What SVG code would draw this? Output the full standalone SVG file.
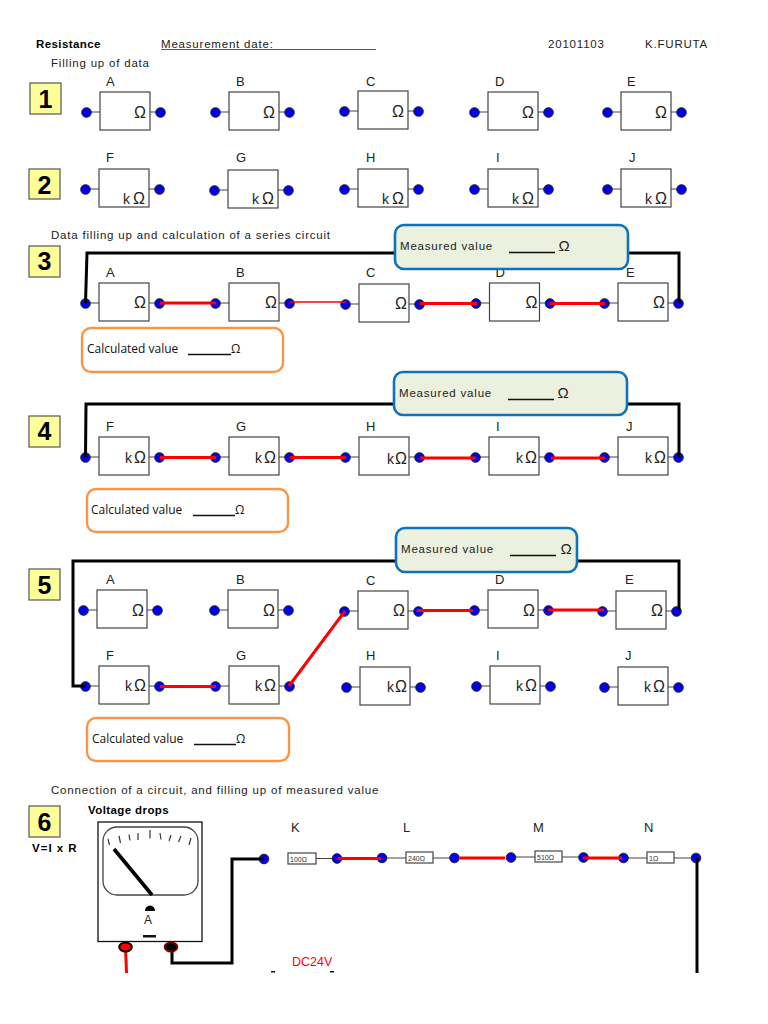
<svg xmlns="http://www.w3.org/2000/svg" xmlns:xlink="http://www.w3.org/1999/xlink" width="768" height="1024" viewBox="0 0 768 1024">
<style>
text{font-family:"Liberation Sans",Arial,sans-serif;fill:#222}
.t{font-size:11.5px;letter-spacing:.8px}
.b{font-size:11.5px;font-weight:bold;fill:#000;letter-spacing:.4px}
.l{font-size:13px}
.o{font-size:16px;text-anchor:middle}
.n{font-size:25px;font-weight:bold;text-anchor:middle;fill:#000}
.c{font-family:"Open Sans","Noto Sans",sans-serif;font-size:12px;fill:#111}
.sm{font-size:7px;fill:#333}
.badge{fill:#ffff99;stroke:#555;stroke-width:1.2}
.box{fill:#fff;stroke:#444;stroke-width:1.2}
.lead{stroke:#444;stroke-width:1.2;fill:none}
.dot{fill:#0000ee;stroke:#222;stroke-width:1}
.blk{stroke:#000;stroke-width:3;fill:none}
.red{stroke:#f00;stroke-width:3;fill:none}
.ul{stroke:#111;stroke-width:1.3}
.mv{fill:#ebf1de;stroke:#0f72bd;stroke-width:2.6}
.cv{fill:#fff;stroke:#f79646;stroke-width:2.4}
</style>
<defs>
<g id="res">
<path class="lead" d="M-9 20H0M50 20H56"/>
<rect class="box" width="50" height="38"/>
<circle class="dot" cx="-13.500" cy="20.500" r="4.800"/>
<circle class="dot" cx="60.500" cy="20.500" r="4.800"/>
</g>
</defs>

<g id="header">
<text class="b" x="36" y="48">Resistance</text>
<text class="t" x="161" y="48">Measurement date:</text>
<line x1="161" y1="49.500" x2="376" y2="49.500" stroke="#555" stroke-width="1.200"/>
<text class="t" x="548" y="48">20101103</text>
<text class="t" x="645" y="48">K.FURUTA</text>
<text class="t" x="51" y="67">Filling up of data</text>
<text class="t" x="51" y="239">Data filling up and calculation of a series circuit</text>
<text class="t" x="51" y="794">Connection of a circuit, and filling up of measured value</text>
</g>

<g id="badge1"><rect class="badge" x="30" y="83" width="31" height="31"/><text class="n" x="45.500" y="108">1</text></g>
<g id="badge2"><rect class="badge" x="29" y="169" width="31" height="30"/><text class="n" x="44.500" y="194">2</text></g>
<g id="badge3"><rect class="badge" x="29" y="246" width="31" height="31"/><text class="n" x="44.500" y="270">3</text></g>
<g id="badge4"><rect class="badge" x="29" y="416" width="31" height="31"/><text class="n" x="44.500" y="440">4</text></g>
<g id="badge5"><rect class="badge" x="29" y="569" width="31" height="31"/><text class="n" x="44.500" y="594">5</text></g>
<g id="badge6"><rect class="badge" x="29" y="806" width="31" height="31"/><text class="n" x="44.500" y="831">6</text></g>

<g id="r1A" transform="translate(100,92)"><use href="#res"/><text class="l" x="6" y="-6">A</text><text class="o" x="40" y="26">Ω</text></g>
<g id="r1B" transform="translate(229,92)"><use href="#res"/><text class="l" x="7" y="-6">B</text><text class="o" x="40" y="26">Ω</text></g>
<g id="r1C" transform="translate(358,91)"><use href="#res"/><text class="l" x="8" y="-5">C</text><text class="o" x="40" y="26">Ω</text></g>
<g id="r1D" transform="translate(488,92)"><use href="#res"/><text class="l" x="7" y="-6">D</text><text class="o" x="40" y="26">Ω</text></g>
<g id="r1E" transform="translate(621,92)"><use href="#res"/><text class="l" x="6" y="-6">E</text><text class="o" x="40" y="26">Ω</text></g>

<g id="r2F" transform="translate(99,169)"><use href="#res"/><text class="l" x="7" y="-7">F</text><text class="l" x="24" y="35" style="font-size:14px">k</text><text class="o" x="40" y="35">Ω</text></g>
<g id="r2G" transform="translate(228,170)"><use href="#res"/><text class="l" x="8" y="-8">G</text><text class="l" x="24" y="34" style="font-size:14px">k</text><text class="o" x="40" y="34">Ω</text></g>
<g id="r2H" transform="translate(358,169)"><use href="#res"/><text class="l" x="8" y="-7">H</text><text class="l" x="24" y="35" style="font-size:14px">k</text><text class="o" x="40" y="35">Ω</text></g>
<g id="r2I" transform="translate(488,169)"><use href="#res"/><text class="l" x="8" y="-7">I</text><text class="l" x="24" y="35" style="font-size:14px">k</text><text class="o" x="40" y="35">Ω</text></g>
<g id="r2J" transform="translate(621,169)"><use href="#res"/><text class="l" x="8" y="-7">J</text><text class="l" x="24" y="35" style="font-size:14px">k</text><text class="o" x="40" y="35">Ω</text></g>

<g id="r3A" transform="translate(99,283)"><use href="#res"/><text class="l" x="7" y="-6">A</text><text class="o" x="41" y="25">Ω</text></g>
<g id="r3B" transform="translate(229,283)"><use href="#res"/><text class="l" x="7" y="-6">B</text><text class="o" x="42" y="25">Ω</text></g>
<g id="r3C" transform="translate(359,284)"><use href="#res"/><text class="l" x="7" y="-7">C</text><text class="o" x="42" y="25">Ω</text></g>
<g id="r3D" transform="translate(489.500,283)"><use href="#res"/><text class="l" x="6" y="-6">D</text><text class="o" x="42" y="25">Ω</text></g>
<g id="r3E" transform="translate(618,283)"><use href="#res"/><text class="l" x="8" y="-6">E</text><text class="o" x="41" y="25">Ω</text></g>

<g id="r4F" transform="translate(99,437)"><use href="#res"/><text class="l" x="7" y="-6">F</text><text class="l" x="26" y="26" style="font-size:14px">k</text><text class="o" x="41" y="26">Ω</text></g>
<g id="r4G" transform="translate(229,437)"><use href="#res"/><text class="l" x="7" y="-6">G</text><text class="l" x="26" y="26" style="font-size:14px">k</text><text class="o" x="41" y="26">Ω</text></g>
<g id="r4H" transform="translate(359,437)"><use href="#res"/><text class="l" x="7" y="-6">H</text><text class="l" x="28" y="27" style="font-size:14px">k</text><text class="o" x="42" y="27">Ω</text></g>
<g id="r4I" transform="translate(489,437)"><use href="#res"/><text class="l" x="7" y="-6">I</text><text class="l" x="27" y="26" style="font-size:14px">k</text><text class="o" x="42" y="26">Ω</text></g>
<g id="r4J" transform="translate(618,437)"><use href="#res"/><text class="l" x="8" y="-6">J</text><text class="l" x="27" y="26" style="font-size:14px">k</text><text class="o" x="42" y="26">Ω</text></g>

<g id="r5A" transform="translate(97,590)"><use href="#res"/><text class="l" x="9" y="-6">A</text><text class="o" x="41" y="26">Ω</text></g>
<g id="r5B" transform="translate(228,590)"><use href="#res"/><text class="l" x="8" y="-6">B</text><text class="o" x="41" y="26">Ω</text></g>
<g id="r5C" transform="translate(358,591)"><use href="#res"/><text class="l" x="8" y="-6">C</text><text class="o" x="41" y="25">Ω</text></g>
<g id="r5D" transform="translate(488,590)"><use href="#res"/><text class="l" x="7" y="-6">D</text><text class="o" x="41" y="26">Ω</text></g>
<g id="r5E" transform="translate(616,591)"><use href="#res"/><text class="l" x="9" y="-7">E</text><text class="o" x="41" y="25">Ω</text></g>

<g id="r5F" transform="translate(99,666)"><use href="#res"/><text class="l" x="7" y="-6">F</text><text class="l" x="26" y="25" style="font-size:14px">k</text><text class="o" x="41" y="25">Ω</text></g>
<g id="r5G" transform="translate(229,666)"><use href="#res"/><text class="l" x="7" y="-6">G</text><text class="l" x="26" y="25" style="font-size:14px">k</text><text class="o" x="41" y="25">Ω</text></g>
<g id="r5H" transform="translate(360,667)"><use href="#res"/><text class="l" x="6" y="-7">H</text><text class="l" x="27" y="25" style="font-size:14px">k</text><text class="o" x="41" y="25">Ω</text></g>
<g id="r5I" transform="translate(490,666)"><use href="#res"/><text class="l" x="6" y="-6">I</text><text class="l" x="26" y="25" style="font-size:14px">k</text><text class="o" x="41" y="25">Ω</text></g>
<g id="r5J" transform="translate(618,667)"><use href="#res"/><text class="l" x="7" y="-7">J</text><text class="l" x="26" y="25" style="font-size:14px">k</text><text class="o" x="41" y="25">Ω</text></g>

<g id="r6K">
<path class="lead" d="M237 859H264M316 858.500H337"/>
<rect class="box" x="288" y="853" width="28" height="11"/>
<text class="sm" x="290" y="861.500">100Ω</text>
<text class="l" x="291" y="832">K</text>
<circle class="dot" cx="264" cy="859" r="4.800"/><circle class="dot" cx="337" cy="858.500" r="4.800"/>
</g>
<g id="r6L">
<path class="lead" d="M382 858H406M433 858H454"/>
<rect class="box" x="406" y="852" width="27" height="11"/>
<text class="sm" x="408" y="860.500">240Ω</text>
<text class="l" x="403" y="832">L</text>
<circle class="dot" cx="382" cy="858" r="4.800"/><circle class="dot" cx="454.500" cy="858" r="4.800"/>
</g>
<g id="r6M">
<path class="lead" d="M511 857H535M562 857H583"/>
<rect class="box" x="535" y="851" width="27" height="11"/>
<text class="sm" x="537" y="859.500">510Ω</text>
<text class="l" x="533" y="832">M</text>
<circle class="dot" cx="511" cy="857.500" r="4.800"/><circle class="dot" cx="583.500" cy="857.500" r="4.800"/>
</g>
<g id="r6N">
<path class="lead" d="M623 858H647M674 858H696"/>
<rect class="box" x="647" y="852" width="27" height="11"/>
<text class="sm" x="649" y="860.500">1Ω</text>
<text class="l" x="644" y="832">N</text>
<circle class="dot" cx="623.500" cy="858" r="4.800"/><circle class="dot" cx="696" cy="858" r="4.800"/>
</g>

<g id="connectors">
<path class="blk" d="M85.500 303L87 253H395M628 253H679V303"/>
<path class="red" d="M160 303H216M420 303.500H477M550 303.500H605"/>
<path class="red" style="stroke-width:1.500" d="M290 302H346"/>
<path class="blk" d="M85.500 457L86 404H394M627 404H679V457"/>
<path class="red" d="M160 457.500H216M290 457.500H346M420 458H476M551 458H605"/>
<path class="blk" d="M86 686H73V561H396M577 561H679V610"/>
<path class="red" d="M160 686.500H216M289 686L345 611M417 610.500H473M548 610H604"/>
<path class="blk" d="M172 947V963H232V859H264"/>
<path class="blk" d="M697 858V973"/>
<path class="red" d="M338 858.500H381M460 858H505M583 858H622"/>
<path class="red" d="M125.500 947L126.500 973"/>
</g>

<g id="meter">
<rect x="98" y="822" width="104" height="119.500" fill="#fff" stroke="#111" stroke-width="1.300"/>
<rect x="103" y="827" width="95" height="68" rx="14" fill="#fff" stroke="#444" stroke-width="1.300"/>
<path d="M108 839L109.500 845M119 836L120.500 843M129 834.500L130 840.500M138 833V840M150 830V838.500M160 833L161 839.500M171 835L169 841M181 836L178.500 842M191 838L189 845" stroke="#333" stroke-width="1.200" fill="none"/>
<line x1="114" y1="849" x2="152" y2="895" stroke="#000" stroke-width="3.600"/>
<path d="M145 911A5 5.500 0 0 1 155 911Z" fill="#000"/>
<text class="l" x="144" y="924" style="font-size:12px">A</text>
<rect x="143" y="935" width="13" height="2.500" fill="#111"/>
<ellipse cx="125.500" cy="947" rx="6.300" ry="4.600" fill="#f00" stroke="#000" stroke-width="2"/>
<ellipse cx="171" cy="947" rx="6.300" ry="4.600" fill="#000" stroke="#7a0000" stroke-width="2"/>
<text class="b" x="88" y="814">Voltage drops</text>
<text class="b" x="32" y="852" style="letter-spacing:1px">V=I x R</text>
</g>

<g id="source">
<text x="292" y="966" style="font-size:12.500px;fill:#f00">DC24V</text>
<rect x="271" y="971" width="4" height="1.500" fill="#111"/>
<rect x="330" y="971" width="4" height="1.500" fill="#111"/>
</g>

<g id="measured3"><rect class="mv" x="395" y="225" width="233" height="44" rx="9"/><text class="t" x="400" y="250">Measured value</text><line class="ul" x1="509" y1="252.500" x2="555" y2="252.500"/><text class="o" x="564" y="251" style="font-size:15px">Ω</text></g>
<g id="measured4"><rect class="mv" x="394" y="372" width="233" height="43" rx="9"/><text class="t" x="399" y="397">Measured value</text><line class="ul" x1="508" y1="399.500" x2="554" y2="399.500"/><text class="o" x="563" y="398" style="font-size:15px">Ω</text></g>
<g id="measured5"><rect class="mv" x="396" y="528" width="181" height="44" rx="9"/><text class="t" x="401" y="553">Measured value</text><line class="ul" x1="510" y1="555.500" x2="556" y2="555.500"/><text class="o" x="566" y="554" style="font-size:15px">Ω</text></g>

<g id="calc3"><rect class="cv" x="82" y="328" width="201" height="44" rx="9"/><text class="c" x="87" y="353">Calculated value</text><line class="ul" x1="188" y1="354.500" x2="231" y2="354.500"/><text class="c" x="231" y="353">Ω</text></g>
<g id="calc4"><rect class="cv" x="87" y="489" width="201" height="43" rx="9"/><text class="c" x="91" y="514">Calculated value</text><line class="ul" x1="193" y1="515.500" x2="235" y2="515.500"/><text class="c" x="235" y="514">Ω</text></g>
<g id="calc5"><rect class="cv" x="87" y="718" width="202" height="43" rx="9"/><text class="c" x="92" y="743">Calculated value</text><line class="ul" x1="194" y1="744.500" x2="236" y2="744.500"/><text class="c" x="236" y="743">Ω</text></g>
</svg>
